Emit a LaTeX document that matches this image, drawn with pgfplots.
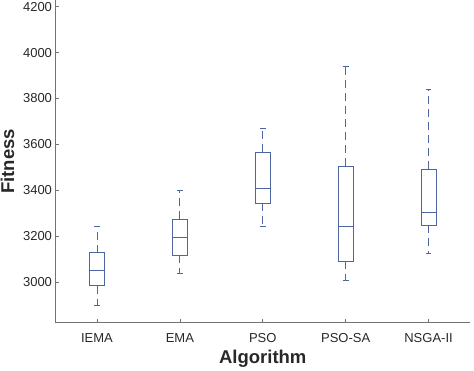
\documentclass[border=0pt]{standalone}
\usepackage{pgfplots}
\pgfplotsset{compat=1.18}
\usetikzlibrary{calc}
\usepackage{fontspec}
\setmainfont{Liberation Sans}
\definecolor{boxc}{RGB}{78,102,160}
\definecolor{axc}{RGB}{115,115,115}
\definecolor{txt}{RGB}{40,40,40}
% #1 position, #2 lower whisker, #3 lower quartile, #4 median, #5 upper quartile, #6 upper whisker
\newcommand{\bx}[6]{%
  \pgfmathsetmacro{\xl}{#1-0.09}\pgfmathsetmacro{\xr}{#1+0.09}%
  \pgfmathsetmacro{\cl}{#1-0.035}\pgfmathsetmacro{\cr}{#1+0.035}%
  \addplot[boxc, line width=0.7pt] coordinates {(\xl,#3) (\xr,#3) (\xr,#5) (\xl,#5) (\xl,#3)};
  \addplot[boxc, line width=0.7pt] coordinates {(\xl,#4) (\xr,#4)};
  \addplot[boxc, line width=0.7pt, dash pattern=on 8pt off 5pt] coordinates {(#1,#5) (#1,#6)};
  \addplot[boxc, line width=0.7pt, dash pattern=on 8pt off 5pt] coordinates {(#1,#3) (#1,#2)};
  \addplot[boxc, line width=0.7pt] coordinates {(\cl,#6) (\cr,#6)};
  \addplot[boxc, line width=0.7pt] coordinates {(\cl,#2) (\cr,#2)};
}
\begin{document}
\begin{tikzpicture}
\begin{axis}[
  name=ax,
  scale only axis,
  width=414.5pt, height=322.5pt,
  xmin=0.5, xmax=5.5,
  ymin=2823.5, ymax=4229,
  axis x line*=bottom, axis y line*=left,
  axis line style={axc, line width=0.6pt},
  tick style={axc, line width=0.6pt},
  tick align=inside,
  major tick length=4pt,
  xtick={1,2,3,4,5},
  xticklabels={IEMA,EMA,PSO,PSO-SA,NSGA-II},
  ytick={3000,3200,3400,3600,3800,4000,4200},
  /pgf/number format/assume math mode=true,
  /pgf/number format/1000 sep={},
  ticklabel style={font=\fontsize{13}{15}\selectfont, text=txt},
  xticklabel style={anchor=base, yshift=-20pt},
  xlabel={Algorithm}, ylabel={Fitness},
  every axis x label/.style={at={(axis description cs:0.5,0)}, yshift=-36.5pt, anchor=center,
    font=\fontsize{18.5}{21}\selectfont\bfseries, text=txt},
  every axis y label/.style={at={(axis description cs:0,0.5)}, xshift=-48pt, rotate=90, anchor=center,
    font=\fontsize{18.5}{21}\selectfont\bfseries, text=txt},
  clip=false,
]
\bx{1}{2897}{2984}{3049}{3128}{3244}
\bx{2}{3038}{3116}{3195}{3273}{3401}
\bx{3}{3244}{3343}{3409}{3566}{3671}
\bx{4}{3009}{3090}{3241}{3506}{3940}
\bx{5}{3125}{3247}{3305}{3492}{3838}
\end{axis}
\pgfresetboundingbox
\path ($(ax.south west)+(-55.5pt,-47.5pt)$) rectangle ($(ax.north east)+(4pt,0pt)$);
\end{tikzpicture}
\end{document}
